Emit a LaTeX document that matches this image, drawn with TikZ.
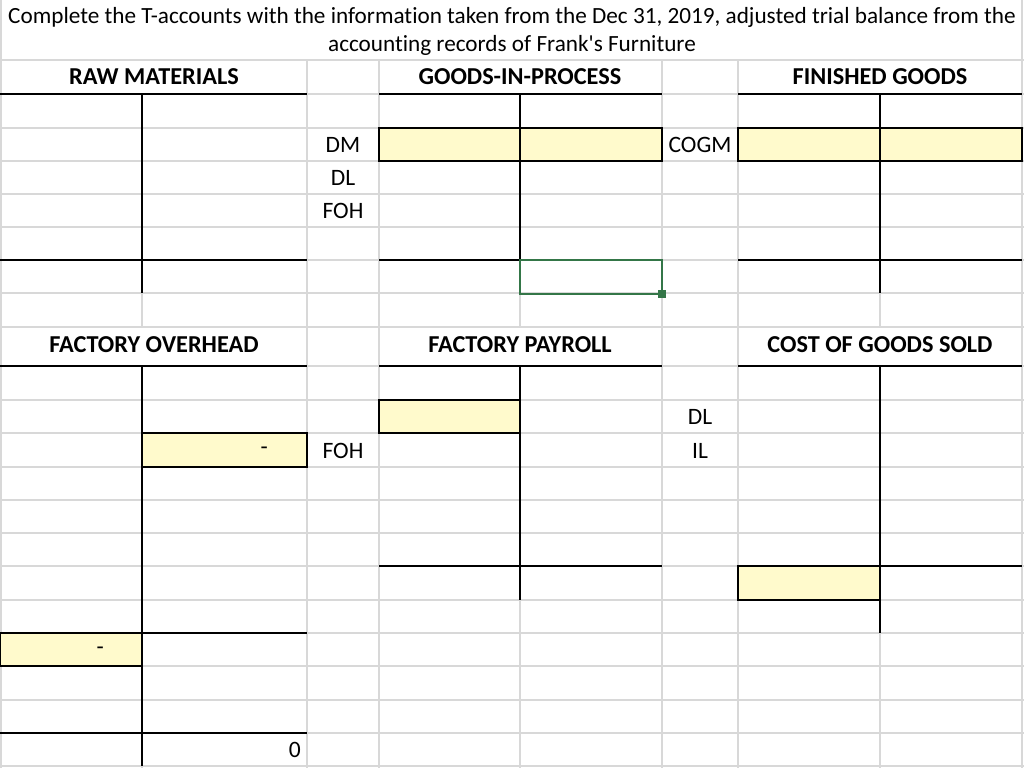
\documentclass[tikz,border=0pt]{standalone}
\usepackage{fontspec}
\setmainfont{Carlito}[Ligatures={TeXOff,NoCommon}]
\definecolor{gridgray}{RGB}{216,216,216}
\definecolor{cellyellow}{RGB}{255,250,204}
\definecolor{selgreen}{RGB}{52,118,72}
\begin{document}
\begin{tikzpicture}[x=1pt,y=-1pt,
  grid/.style={draw=gridgray,line width=1.1pt},
  tline/.style={draw=black,line width=1.3pt},
  heavy/.style={draw=black,line width=2.6pt},
  cellbox/.style={fill=cellyellow,draw=black,line width=1.2pt},
  ttl/.style={font=\fontsize{23.2}{25}\selectfont,inner sep=0pt},
  lbl/.style={font=\fontsize{23.5}{25}\selectfont,inner sep=0pt},
  hdr/.style={font=\fontsize{24.3}{26}\selectfont\bfseries,inner sep=0pt}]
\useasboundingbox (0,0) rectangle (1024,768);
\fill[white] (0,0) rectangle (1024,768);
% gridlines: horizontal
\foreach \y in {60,94,128,161,194,227,260,293,327,366,400,433,467,500,533,566,600,633,666,700,733,766}
  \draw[grid] (0,\y) -- (1024,\y);
% gridlines: vertical
\foreach \x in {1,1022}
  \draw[grid] (\x,0) -- (\x,768);
\foreach \x in {307,379,662,738}
  \draw[grid] (\x,60) -- (\x,768);
\foreach \x in {142,520,880}{
  \draw[grid] (\x,94) -- (\x,327);
  \draw[grid] (\x,366) -- (\x,768);
}
% title
\node[ttl] (t1) at (512,17) {Complete the T-accounts with the information taken from the Dec 31, 2019, adjusted trial balance from the};
\node[ttl] (t2) at (512,45) {accounting records of Frank's Furniture};
% headers
\node[hdr] (hRM) at (154,77) {RAW MATERIALS};
\node[hdr] (hGIP) at (520,77) {GOODS-IN-PROCESS};
\node[hdr] (hFG) at (880,77) {FINISHED GOODS};
\node[hdr] (hFOH) at (154,345) {FACTORY OVERHEAD};
\node[hdr] (hFP) at (520,345) {FACTORY PAYROLL};
\node[hdr] (hCOGS) at (880,345) {COST OF GOODS SOLD};
% heavy header rules
\draw[heavy] (0,94) -- (307,94);
\draw[heavy] (379,94) -- (662,94);
\draw[heavy] (738,94) -- (1022,94);
\draw[heavy] (0,366) -- (307,366);
\draw[heavy] (379,366) -- (662,366);
\draw[heavy] (738,366) -- (1022,366);
% yellow cells
\draw[cellbox] (379,128) rectangle (520,161);
\draw[cellbox] (520,128) rectangle (662,161);
\draw[cellbox] (738,128) rectangle (880,161);
\draw[cellbox] (880,128) rectangle (1022,161);
\draw[cellbox] (142,433) rectangle (307,467);
\draw[cellbox] (379,400) rectangle (520,433);
\draw[cellbox] (738,566) rectangle (880,600);
\draw[cellbox] (0,633) rectangle (142,666);
% T-account lines: top row
\draw[tline] (142,94) -- (142,293);
\draw[tline] (0,260) -- (307,260);
\draw[tline] (520,94) -- (520,293);
\draw[tline] (379,260) -- (520,260);
\draw[tline] (880,94) -- (880,293);
\draw[tline] (738,260) -- (1022,260);
% T-account lines: bottom row
\draw[tline] (142,366) -- (142,766);
\draw[tline] (142,633) -- (307,633);
\draw[tline] (0,733) -- (307,733);
\draw[tline] (520,366) -- (520,600);
\draw[tline] (379,566) -- (662,566);
\draw[tline] (880,366) -- (880,633);
\draw[tline] (738,566) -- (1022,566);
% selected cell
\draw[selgreen,line width=2pt] (520,260) rectangle (662,294);
\fill[selgreen] (658,290) rectangle (666,298);
% labels
\node[lbl] (dm) at (343,145) {DM};
\node[lbl] (dl1) at (343,178) {DL};
\node[lbl] (foh1) at (343,211) {FOH};
\node[lbl] (cogm) at (700,145) {COGM};
\node[lbl] (foh2) at (343,451) {FOH};
\node[lbl] (dl2) at (700,417) {DL};
\node[lbl] (il) at (700,451) {IL};
\node[lbl,anchor=east] (d1) at (268,451) {-};
\node[lbl,anchor=east] (d2) at (104,651) {-};
\node[lbl,anchor=east] (z) at (301,750) {0};
\end{tikzpicture}
\end{document}
